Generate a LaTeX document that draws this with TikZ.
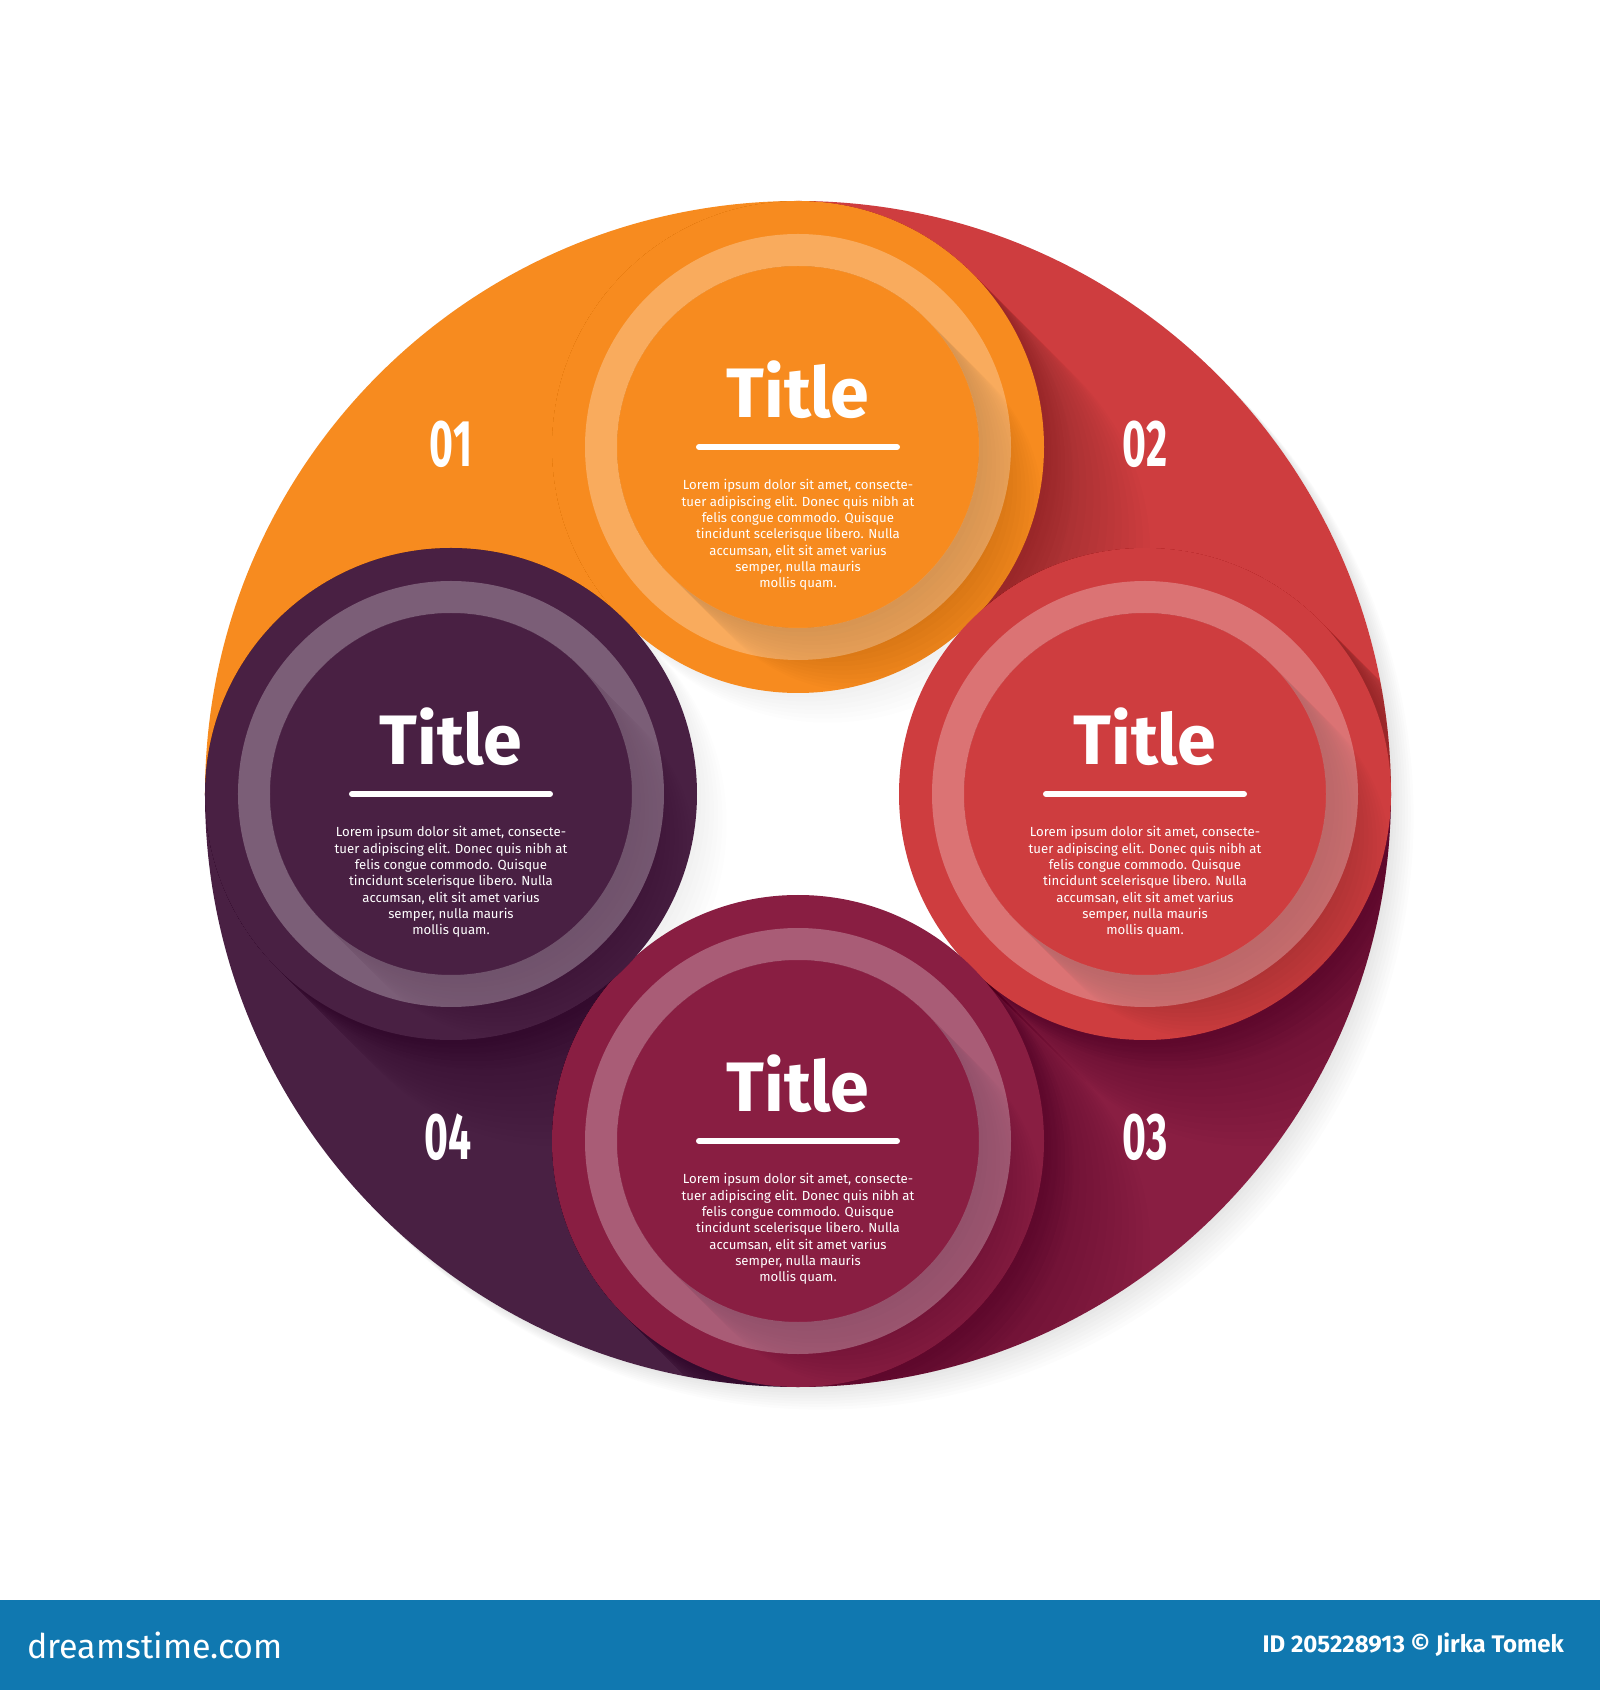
\documentclass[tikz,border=0pt]{standalone}
\usepackage{fontspec}
\setmainfont{Fira Sans}
\newfontfamily\numfont[FakeStretch=0.62]{Fira Sans}
\usetikzlibrary{calc}

\definecolor{orangeA}{RGB}{247,139,31}
\definecolor{redA}{RGB}{206,61,63}
\definecolor{maroonA}{RGB}{137,30,66}
\definecolor{purpleA}{RGB}{73,32,67}
\definecolor{footblue}{RGB}{16,120,176}

\tikzset{
  ringline/.style={white, opacity=.28, line width=16pt},
  titletext/.style={text=white, font=\bfseries\fontsize{35}{40}\selectfont},
  bodytext/.style={text=white, align=center, inner sep=0pt, font=\fontsize{6.6}{8.15}\selectfont},
  numtext/.style={text=white, font=\numfont\bfseries\fontsize{33}{36}\selectfont},
  titlebar/.style={white, line width=3pt, line cap=round},
  shade/.style={fill=black, opacity=.013},
  faintshade/.style={shade, opacity=.008},
}

\newcommand{\longshadow}[4][shade]{%
  \fill[#1] ($(#2)+(45:#3)$) arc[start angle=45, end angle=225, radius=#3]
    -- ++(-45:#4) arc[start angle=225, end angle=405, radius=#3] -- cycle;}
\newcommand{\sectorpath}[1]{(#1:347) -- (#1:593) arc[start angle=#1, end angle=#1+90, radius=593] -- (#1+90:347) -- cycle}
\newcommand{\loremtext}{Lorem ipsum dolor sit amet, consecte-\\tuer adipiscing elit. Donec quis nibh at\\felis congue commodo. Quisque\\tincidunt scelerisque libero. Nulla\\accumsan, elit sit amet varius\\semper, nulla mauris\\mollis quam.}

\begin{document}
\begin{tikzpicture}[x=0.5pt, y=0.5pt]
  \useasboundingbox (-798,-896) rectangle (802,794);
  \fill[white] (-798,-896) rectangle (802,794);

  % centre and disc centres
  \coordinate (o) at (0,0);
  \coordinate (d1) at (0,347);
  \coordinate (d2) at (347,0);
  \coordinate (d3) at (0,-347);
  \coordinate (d4) at (-347,0);

  % faint shadow of the whole wheel, outside only
  \begin{scope}[even odd rule]
    \clip (-798,-806) rectangle (802,794) (o) circle[radius=593];
    \foreach \l in {4,8,...,32}{\longshadow{o}{593}{\l}}
  \end{scope}

  % outer sectors
  \fill[orangeA] \sectorpath{90};
  \fill[redA] \sectorpath{0};
  \fill[maroonA] \sectorpath{-90};
  \fill[purpleA] \sectorpath{180};

  % faint shadows in the hole
  \begin{scope}
    \clip (o) circle[radius=593];
    \foreach \c in {d1,d2,d3,d4}{
      \foreach \l in {6,12,...,42}{\longshadow[faintshade]{\c}{246}{\l}}
    }
  \end{scope}

  % long shadows of the discs on the sectors
  \begin{scope}
    \clip \sectorpath{90} \sectorpath{0} \sectorpath{-90} \sectorpath{180};
    \foreach \c in {d1,d2,d3,d4}{
      \foreach \l in {10,20,...,150}{\longshadow{\c}{246}{\l}}
    }
  \end{scope}

  % discs, inner shadows, rings
  \foreach \c/\col in {d1/orangeA, d2/redA, d3/maroonA, d4/purpleA}{
    \fill[\col] (\c) circle[radius=246];
    \begin{scope}
      \clip (\c) circle[radius=246];
      \foreach \l in {6,12,...,90}{\longshadow{\c}{181}{\l}}
    \end{scope}
    \fill[\col] (\c) circle[radius=181];
    \draw[ringline] (\c) circle[radius=197];
  }

  % texts
  \node[titletext] (t1) at ($(d1)+(0,57)$) {Title};
  \draw[titlebar] ($(d1)+(-99,0)$) -- ($(d1)+(99,0)$);
  \node[bodytext] (b1) at ($(d1)+(0,-88)$) {\loremtext};

  \node[titletext] (t2) at ($(d2)+(0,57)$) {Title};
  \draw[titlebar] ($(d2)+(-99,0)$) -- ($(d2)+(99,0)$);
  \node[bodytext] (b2) at ($(d2)+(0,-88)$) {\loremtext};

  \node[titletext] (t3) at ($(d3)+(0,57)$) {Title};
  \draw[titlebar] ($(d3)+(-99,0)$) -- ($(d3)+(99,0)$);
  \node[bodytext] (b3) at ($(d3)+(0,-88)$) {\loremtext};

  \node[titletext] (t4) at ($(d4)+(0,57)$) {Title};
  \draw[titlebar] ($(d4)+(-99,0)$) -- ($(d4)+(99,0)$);
  \node[bodytext] (b4) at ($(d4)+(0,-88)$) {\loremtext};

  % step numbers
  \foreach \x/\y/\n in {-347/350/01, 347/350/02, 347/-343/03, -350/-343/04}{
    \node[numtext] (n\n) at (\x,\y) {\n};
  }

  % footer
  \fill[footblue] (-798,-896) rectangle (802,-806);
  \node[text=white, anchor=west, font=\fontsize{17}{20}\selectfont] (logo) at (-778,-851) {dreamstime.com};
  \node[text=white, anchor=east, font=\bfseries\fontsize{12}{14}\selectfont] (credit) at (773,-851) {ID 205228913 © Jirka Tomek};
\end{tikzpicture}
\end{document}
